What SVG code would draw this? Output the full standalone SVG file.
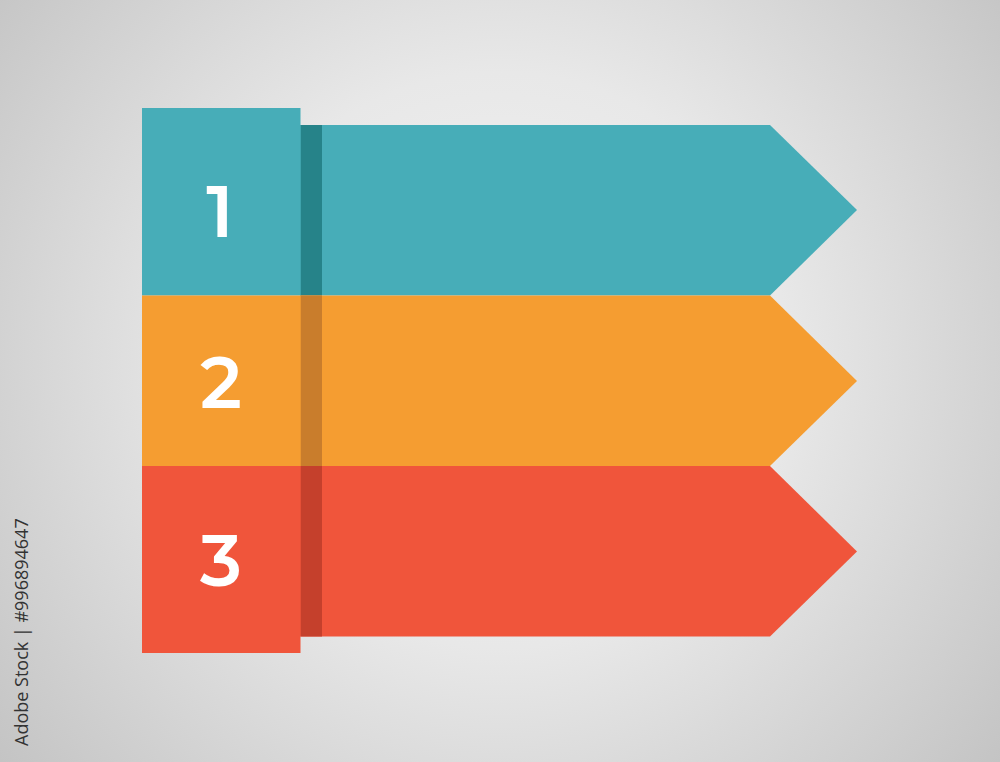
<svg xmlns="http://www.w3.org/2000/svg" width="1000" height="762" viewBox="0 0 1000 762">
<defs>
<radialGradient id="bg" cx="500" cy="360" r="640" gradientUnits="userSpaceOnUse">
<stop offset="0" stop-color="#f4f4f4"/>
<stop offset="0.45" stop-color="#e8e8e8"/>
<stop offset="1" stop-color="#c4c4c4"/>
</radialGradient>
<style>
.num{font-family:"Montserrat","Open Sans","Lato",sans-serif;font-size:72px;font-weight:600;fill:#ffffff;text-anchor:middle}
.teal{fill:#47adb8}.tealD{fill:#268389}
.orange{fill:#f59d31}.orangeD{fill:#c97d2c}
.red{fill:#f0553b}.redD{fill:#c5402c}
.wm{font-family:"Open Sans","Liberation Sans",sans-serif;font-size:18px;fill:#333333}
</style>
</defs>
<rect width="1000" height="762" fill="url(#bg)"/>
<g id="band1">
<polygon class="teal" points="300,125 770,125 857,210 770,295.5 300,295.5"/>
<rect class="tealD" x="300.5" y="125" width="21.5" height="170.5"/>
</g>
<g id="band2">
<polygon class="orange" points="300,295.5 770,295.5 857,381 770,466 300,466"/>
<rect class="orangeD" x="300.5" y="295.5" width="21.5" height="170.5"/>
</g>
<g id="band3">
<polygon class="red" points="300,466 770,466 857,551.5 770,636.5 300,636.5"/>
<rect class="redD" x="300.5" y="466" width="21.5" height="170.5"/>
</g>
<g id="tab1">
<rect class="teal" x="142" y="108" width="158.5" height="187.5"/>
<text class="num" x="220" y="237">1</text>
</g>
<g id="tab2">
<rect class="orange" x="142" y="295.5" width="158.5" height="170.5"/>
<text class="num" x="221" y="408">2</text>
</g>
<g id="tab3">
<rect class="red" x="142" y="466" width="158.5" height="187"/>
<text class="num" x="221" y="586">3</text>
</g>
<text class="wm" transform="translate(28,746) rotate(-90)">Adobe Stock | #996894647</text>
</svg>
